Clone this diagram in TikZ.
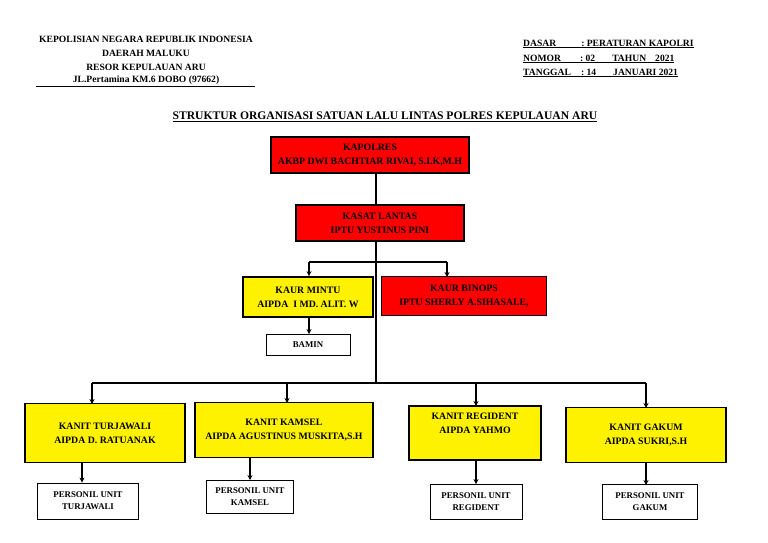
\documentclass[tikz,border=0pt]{standalone}
\usepackage{fontspec}
\setmainfont{Liberation Serif}
\usetikzlibrary{arrows.meta}
\begin{document}
\begin{tikzpicture}[x=1pt,y=-1pt,
  box/.style={draw,line width=1.6pt,align=center,font=\bfseries\fontsize{9.8}{14}\selectfont},
  red/.style={box,fill=red},
  yel/.style={box,fill=yellow},
  wht/.style={draw,line width=0.8pt,fill=white,align=center,font=\bfseries\fontsize{8.8}{12}\selectfont},
  ln/.style={line width=1.4pt},
  arr/.style={ln,-{Stealth[length=5pt,width=5pt]}},
  hd/.style={font=\bfseries\fontsize{9.6}{10}\selectfont,inner sep=0pt}]
\useasboundingbox (0,0) rectangle (768,543);
% header
\node[hd] (h1) at (146,39) {KEPOLISIAN NEGARA REPUBLIK INDONESIA};
\node[hd] (h2) at (146,53) {DAERAH MALUKU};
\node[hd] (h3) at (146,67) {RESOR KEPULAUAN ARU};
\node[hd] (h4) at (146,80) {JL.Pertamina KM.6 DOBO (97662)};
\draw[line width=0.7pt] (36,86) -- (255,86);
\node[hd,anchor=west] (r1) at (523,44) {\underline{DASAR\hspace{25pt}: PERATURAN KAPOLRI}};
\node[hd,anchor=west] (r2) at (523,59) {\underline{NOMOR\hspace{19pt}: 02\hspace{17pt}TAHUN\hspace{9pt}2021}};
\node[hd,anchor=west] (r3) at (523,73) {\underline{TANGGAL\hspace{10pt}: 14\hspace{17pt}JANUARI 2021}};
\node[font=\bfseries\fontsize{11.6}{12}\selectfont] (title) at (385,117) {\underline{STRUKTUR ORGANISASI SATUAN LALU LINTAS POLRES KEPULAUAN ARU}};
% nodes
\node[red,minimum width=198pt,minimum height=36pt] (kap) at (370,155) {KAPOLRES\\AKBP DWI BACHTIAR RIVAI, S.I.K,M.H};
\node[red,minimum width=168pt,minimum height=36pt] (kas) at (380,223) {KASAT LANTAS\\IPTU YUSTINUS PINI};
\node[yel,minimum width=130pt,minimum height=40pt] (min) at (308,297) {KAUR MINTU\\AIPDA\ \ I MD. ALIT. W};
\node[red,minimum width=165pt,minimum height=39pt] (bin) at (464,296) {KAUR BINOPS\\IPTU SHERLY A.SIHASALE,};
\node[wht,minimum width=84pt,minimum height=21pt] (bam) at (308,345) {BAMIN};
\node[yel,minimum width=160pt,minimum height=59pt] (k1) at (105,433) {KANIT TURJAWALI\\AIPDA D. RATUANAK};
\node[yel,minimum width=178pt,minimum height=55pt] (k2) at (284,430) {KANIT KAMSEL\\AIPDA AGUSTINUS MUSKITA,S.H};
\node[yel,minimum width=132pt,minimum height=54pt] (k3) at (475,433) {KANIT REGIDENT\\AIPDA YAHMO\\[6pt]};
\node[yel,minimum width=160pt,minimum height=55pt] (k4) at (646,435) {KANIT GAKUM\\AIPDA SUKRI,S.H};
\node[wht,minimum width=101pt,minimum height=36pt] (p1) at (88,501) {PERSONIL UNIT\\TURJAWALI};
\node[wht,minimum width=87pt,minimum height=33pt] (p2) at (250,497) {PERSONIL UNIT\\KAMSEL};
\node[wht,minimum width=92pt,minimum height=35pt] (p3) at (476,502) {PERSONIL UNIT\\REGIDENT};
\node[wht,minimum width=95pt,minimum height=35pt] (p4) at (650,502) {PERSONIL UNIT\\GAKUM};
% connectors
\coordinate (tr) at (376,383);
\draw[ln] (376,173) -- (376,205);
\draw[ln] (376,241) -- (tr);
\draw[ln] (309,262) -- (447,262);
\draw[arr] (309,262) -- (min.north -| 309,0);
\draw[arr] (447,262) -- (447,277);
\draw[arr] (min.south -| 309,0) -- (bam.north -| 309,0);
\draw[ln] (92,383) -- (646,383);
\draw[arr] (92,383) -- (92,404);
\draw[arr] (287,383) -- (287,403);
\draw[arr] (476,383) -- (476,406);
\draw[arr] (646,383) -- (646,408);
\draw[arr] (82,463) -- (p1.north -| 82,0);
\draw[arr] (250,458) -- (p2.north);
\draw[arr] (476,460) -- (p3.north);
\draw[arr] (646,463) -- (646,485);
\end{tikzpicture}
\end{document}
